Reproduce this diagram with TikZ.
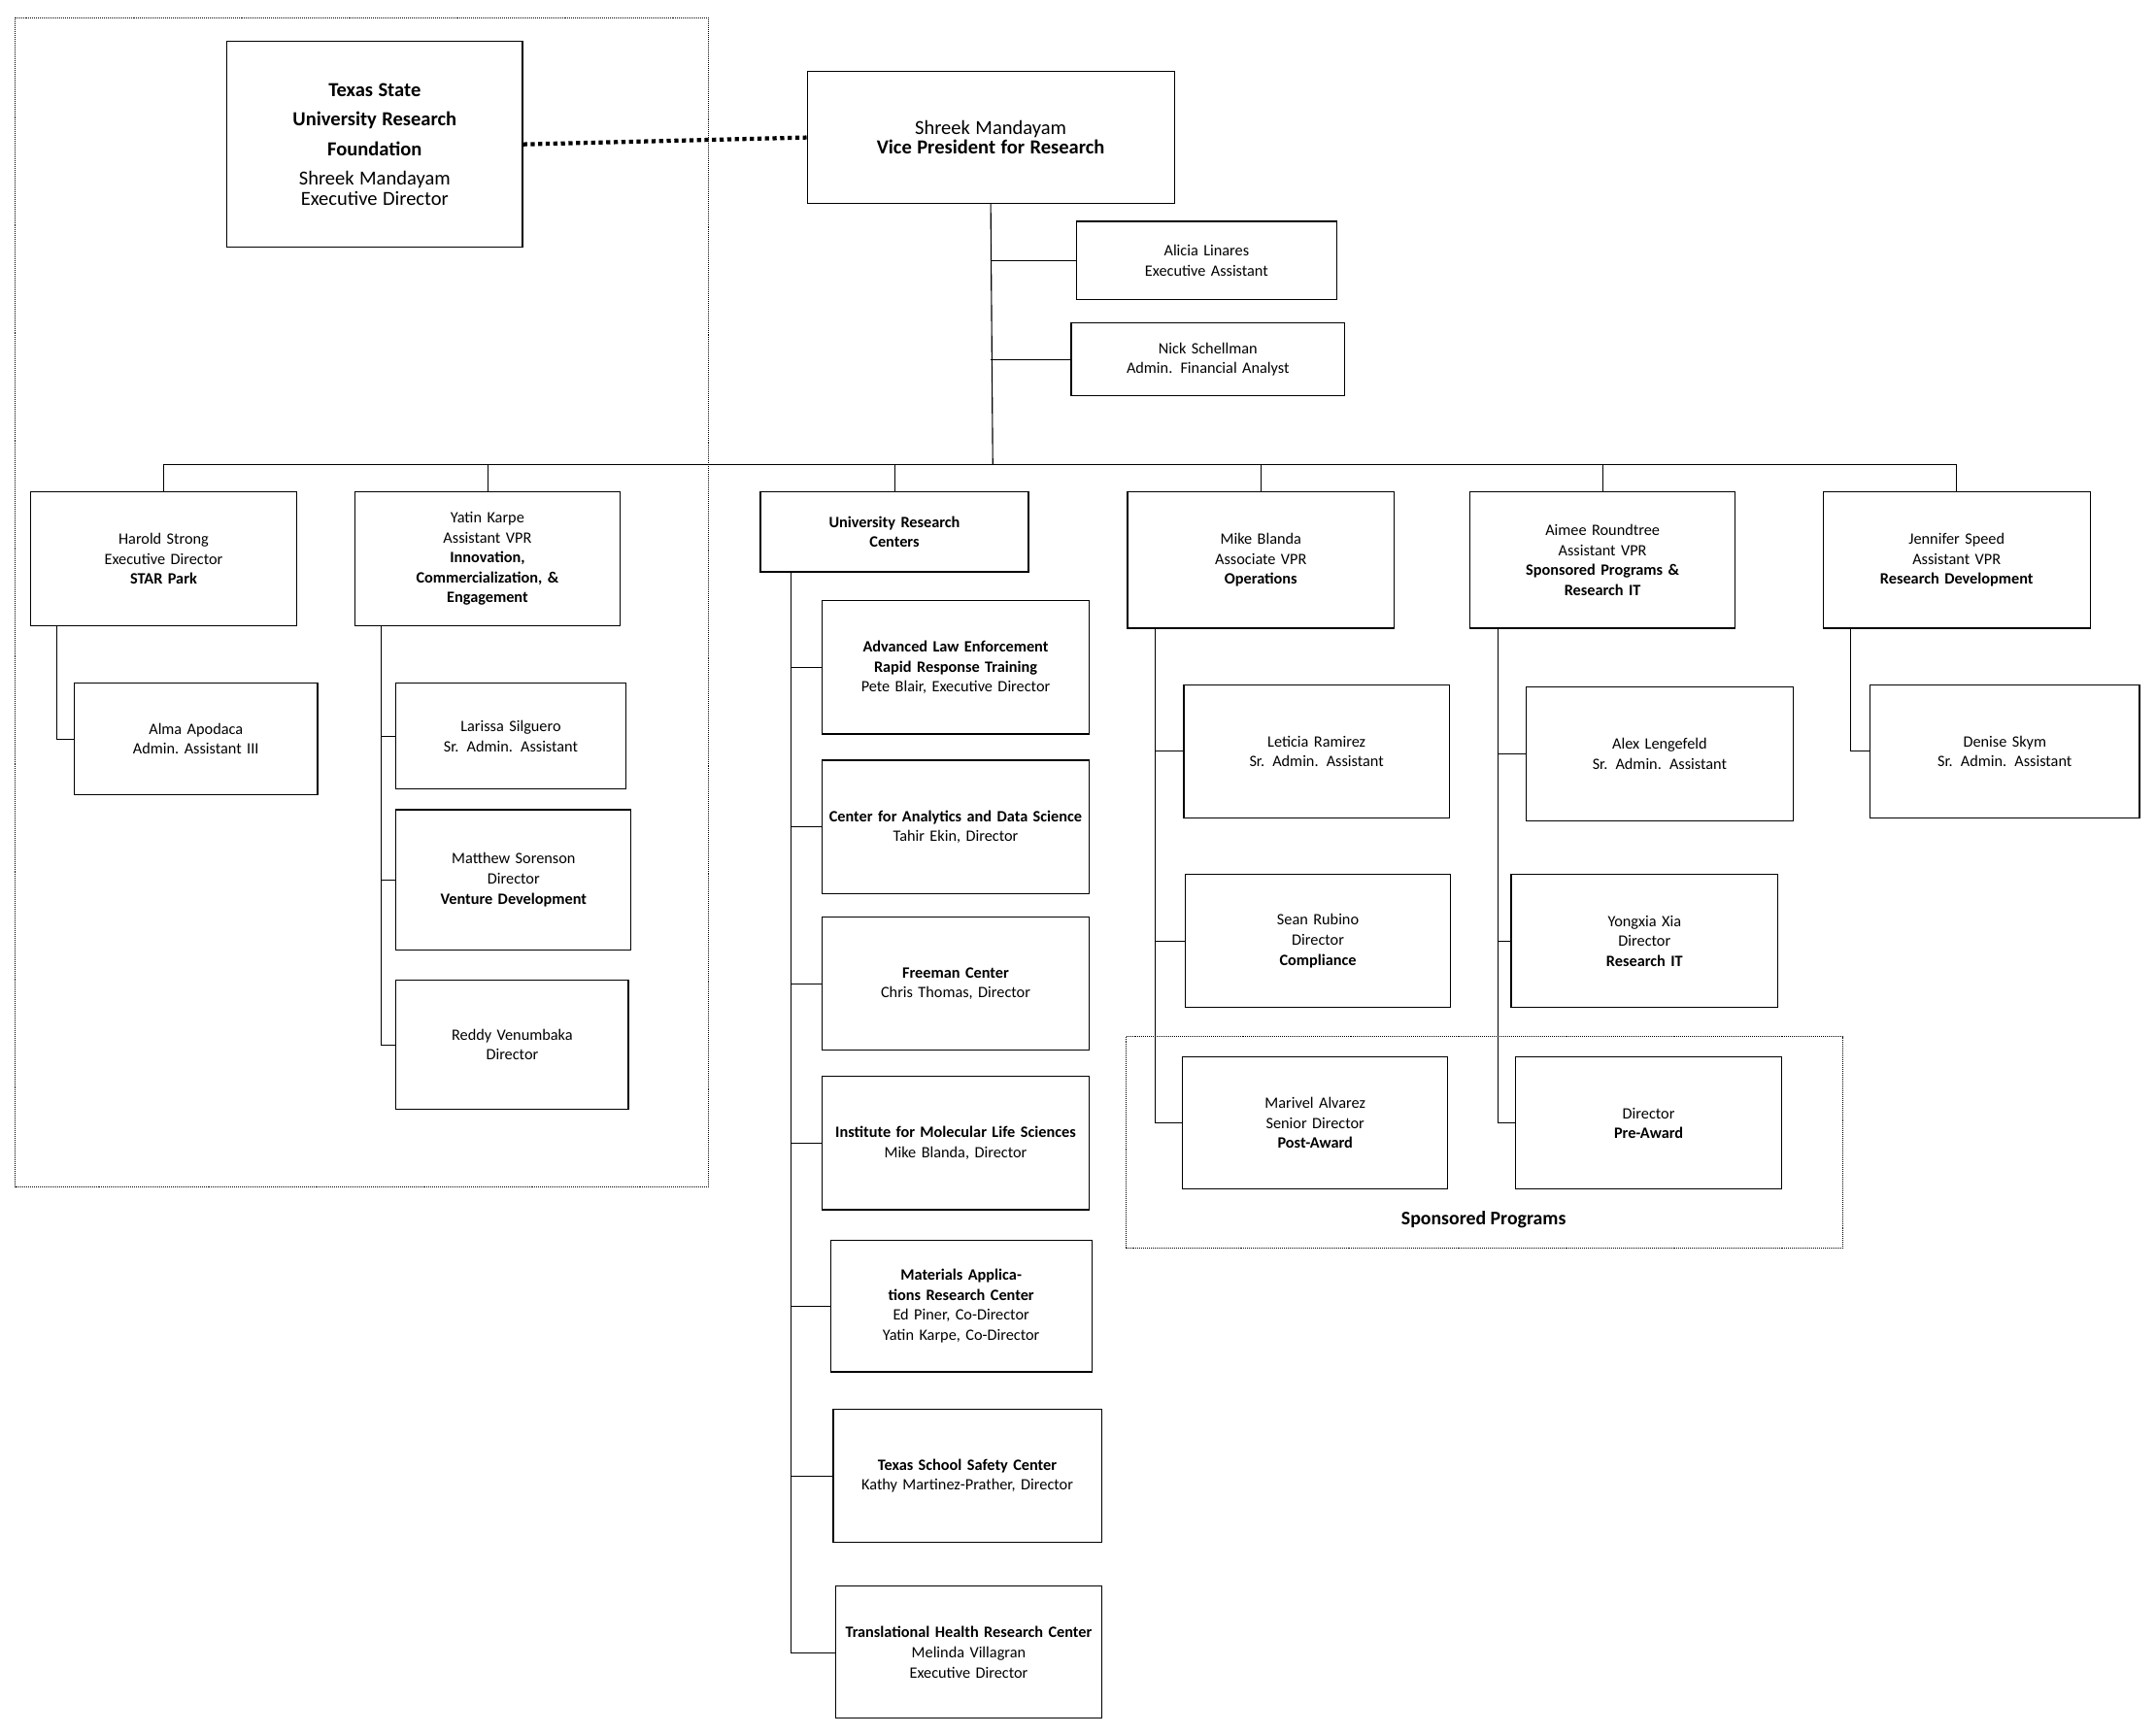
\documentclass[tikz,border=0pt]{standalone}
\usepackage{fontspec}
\setmainfont{Carlito}
\begin{document}
\begin{tikzpicture}[x=1pt,y=-1pt,
  box/.style={draw,thick,inner sep=1pt,align=center,font=\fontsize{11.5}{14.5}\selectfont},
  ln/.style={thin}]
\useasboundingbox (0,0) rectangle (1568,1262);
\newcommand\bx[6]{\node[box,minimum width={(#4-#2)*1pt},minimum height={(#5-#3)*1pt},text width={(#4-#2-8)*1pt}] (#1) at ({(#2+#4)/2},{(#3+#5)/2}) {#6};}
\draw[densely dotted] (11,13) rectangle (515,863);
\draw[densely dotted] (819,754) rectangle (1340,908);
\node[font=\fontsize{14}{17}\selectfont\bfseries] (sp) at (1079,887) {Sponsored Programs};
\bx{tsurf}{165}{30}{380}{180}{\fontsize{14.5}{21.5}\selectfont\textbf{Texas State}\\\textbf{University Research}\\\textbf{Foundation}\\Shreek Mandayam\\Executive Director}
\bx{vpr}{587}{52}{854}{148}{\fontsize{14.5}{20}\selectfont Shreek Mandayam\\\textbf{Vice President for Research}}
\bx{ali}{783}{161}{972}{218}{Alicia Linares\\Executive Assistant}
\bx{nick}{779}{235}{978}{288}{Nick Schellman\\Admin. Financial Analyst}
\draw[line width=3pt,dash pattern=on 3pt off 2.5pt] (tsurf.east) -- (vpr.west);
\bx{har}{22}{358}{216}{455}{Harold Strong\\Executive Director\\\textbf{STAR Park}}
\bx{yat}{258}{358}{451}{455}{Yatin Karpe\\Assistant VPR\\\textbf{Innovation,}\\\textbf{Commercialization, \&}\\\textbf{Engagement}}
\bx{urc}{553}{358}{748}{416}{\textbf{University Research}\\\textbf{Centers}}
\bx{mik}{820}{358}{1014}{457}{Mike Blanda\\Associate VPR\\\textbf{Operations}}
\bx{aim}{1069}{358}{1262}{457}{Aimee Roundtree\\Assistant VPR\\\textbf{Sponsored Programs \&}\\\textbf{Research IT}}
\bx{jen}{1326}{358}{1520}{457}{Jennifer Speed\\Assistant VPR\\\textbf{Research Development}}
\bx{alma}{54}{497}{231}{578}{Alma Apodaca\\Admin.\ Assistant III}
\bx{lar}{288}{497}{455}{574}{Larissa Silguero\\Sr. Admin. Assistant}
\bx{mat}{288}{589}{459}{691}{Matthew Sorenson\\Director\\\textbf{Venture Development}}
\bx{red}{288}{713}{457}{807}{Reddy Venumbaka\\Director}
\bx{c1}{598}{437}{792}{534}{\textbf{Advanced Law Enforcement Rapid Response Training}\\Pete Blair, Executive Director}
\bx{c2}{598}{553}{792}{650}{\textbf{Center for Analytics and Data Science}\\Tahir Ekin, Director}
\bx{c3}{598}{667}{792}{764}{\textbf{Freeman Center}\\Chris Thomas, Director}
\bx{c4}{598}{783}{792}{880}{\textbf{Institute for Molecular Life Sciences}\\Mike Blanda, Director}
\bx{c5}{604}{902}{794}{998}{\textbf{Materials Applications Research Center}\\Ed Piner, Co-Director\\Yatin Karpe, Co-Director}
\bx{c6}{606}{1025}{801}{1122}{\textbf{Texas School Safety Center}\\Kathy Martinez-Prather, Director}
\bx{c7}{608}{1154}{801}{1250}{\textbf{Translational Health Research Center}\\Melinda Villagran\\Executive Director}
\bx{let}{861}{498}{1054}{595}{Leticia Ramirez\\Sr. Admin. Assistant}
\bx{sea}{862}{636}{1055}{733}{Sean Rubino\\Director\\\textbf{Compliance}}
\bx{mar}{860}{769}{1053}{865}{Marivel Alvarez\\Senior Director\\\textbf{Post-Award}}
\bx{ale}{1110}{500}{1304}{597}{Alex Lengefeld\\Sr. Admin. Assistant}
\bx{yon}{1099}{636}{1293}{733}{Yongxia Xia\\Director\\\textbf{Research IT}}
\bx{pre}{1102}{769}{1296}{865}{Director\\\textbf{Pre-Award}}
\bx{den}{1360}{498}{1556}{595}{Denise Skym\\Sr. Admin. Assistant}
% top structure
\coordinate (bar) at (722,338);
\draw[thick] (vpr.south) -- (bar);
\draw (vpr.south |- ali.west) -- (ali.west);
\draw (vpr.south |- nick.west) -- (nick.west);
\draw (har.north |- bar) -- (jen.north |- bar);
\foreach \n in {har,yat,urc,mik,aim,jen} \draw (\n.north |- bar) -- (\n.north);
% sub lines
\coordinate (hx) at (41,455); \draw (hx) -- (hx |- alma.west) -- (alma.west);
\coordinate (yx) at (277,455); \draw[ln] (yx) -- (yx |- red.west) -- (red.west);
\foreach \n in {lar,mat} \draw[ln] (yx |- \n.west) -- (\n.west);
\coordinate (ux) at (575,416); \draw (ux) -- (ux |- c7.west) -- (c7.west);
\foreach \n in {c1,c2,c3,c4,c5,c6} \draw (ux |- \n.west) -- (\n.west);
\coordinate (mx) at (840,457); \draw (mx) -- (mx |- mar.west) -- (mar.west);
\foreach \n in {let,sea} \draw[ln] (mx |- \n.west) -- (\n.west);
\coordinate (ax) at (1089,457); \draw (ax) -- (ax |- pre.west) -- (pre.west);
\foreach \n in {ale,yon} \draw[ln] (ax |- \n.west) -- (\n.west);
\coordinate (jx) at (1346,457); \draw (jx) -- (jx |- den.west) -- (den.west);
\end{tikzpicture}
\end{document}
